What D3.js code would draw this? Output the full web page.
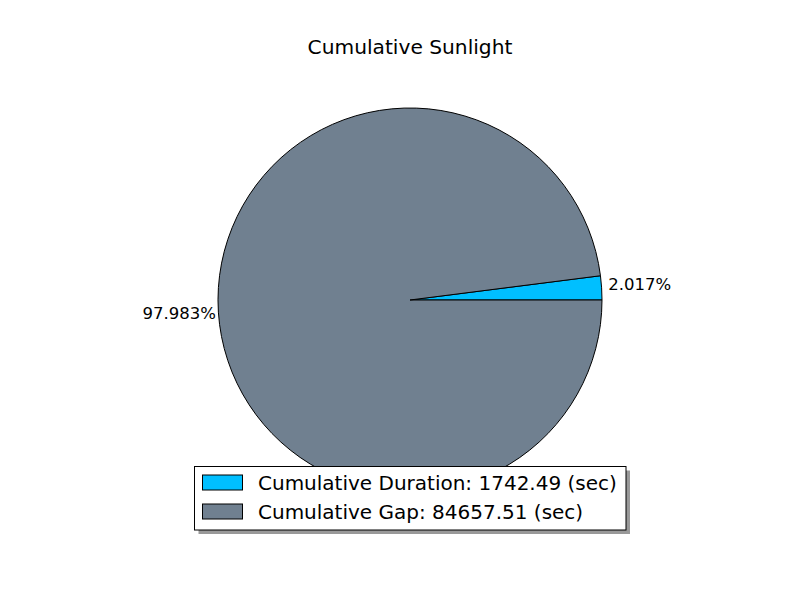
<!DOCTYPE html>
<html><head><meta charset="utf-8">
<script src="https://cdn.jsdelivr.net/npm/d3@7"></script>
<style>body{margin:0;background:#fff}svg{display:block}text{font-family:"DejaVu Sans",sans-serif}</style>
</head><body><svg id="c" width="800" height="600"></svg>
<script>
const categories = ["Cumulative Duration", "Cumulative Gap"];
const values = [1742.49, 84657.51];
const percentLabels = ["2.017%", "97.983%"];
const colors = ["#00bfff", "#708090"];
const title = "Cumulative Sunlight";

const svg = d3.select("#c");
svg.append("rect").attr("width",800).attr("height",600).attr("fill","#fff");
const cx = 410, cy = 300, r = 192;

svg.append("text").attr("x",410).attr("y",53.5).attr("text-anchor","middle")
  .attr("font-size",20.2).text(title);

// matplotlib style: start at east, counterclockwise
const pie = d3.pie().sort(null).value(d=>d)
  .startAngle(Math.PI/2).endAngle(Math.PI/2 - 2*Math.PI);
const arcs = pie(values);
const arc = d3.arc().innerRadius(0).outerRadius(r);
const g = svg.append("g").attr("transform",`translate(${cx},${cy})`);
g.selectAll("path").data(arcs).join("path")
  .attr("d",arc).attr("fill",(d,i)=>colors[i]).attr("stroke","#000").attr("stroke-width",1);

g.selectAll("text.lbl").data(arcs).join("text").attr("class","lbl")
  .each(function(d,i){
    const a = (d.startAngle + d.endAngle)/2;
    const right = Math.sin(a) > 0;
    const lr = right ? r*1.035 : r*1.013;
    const x = lr*Math.sin(a), y = -lr*Math.cos(a) + (right ? -3.5 : 0.5);
    d3.select(this).attr("x", x).attr("y", y).attr("dy","0.36em")
      .attr("text-anchor", right ? "start":"end").attr("font-size",16.5).text(percentLabels[i]);
  });

// legend
const lx = 194.5, ly = 466.5, lw = 431.5, lh = 63.5;
const leg = svg.append("g");
leg.append("rect").attr("x",lx+4).attr("y",ly+4).attr("width",lw).attr("height",lh).attr("fill","#999");
leg.append("rect").attr("x",lx).attr("y",ly).attr("width",lw).attr("height",lh).attr("fill","#fff").attr("stroke","#000").attr("stroke-width",1);
const ys = d3.scalePoint().domain(categories).range([482.5, 511.5]);
categories.forEach((c,i)=>{
  leg.append("rect").attr("x",202.5).attr("y",ys(c)-7.5).attr("width",40).attr("height",15)
    .attr("fill",colors[i]).attr("stroke","#000").attr("stroke-width",1);
  leg.append("text").attr("x",258).attr("y",ys(c)).attr("dy","0.36em").attr("font-size",20)
    .text(`${c}: ${values[i].toFixed(2)} (sec)`);
});
</script></body></html>
